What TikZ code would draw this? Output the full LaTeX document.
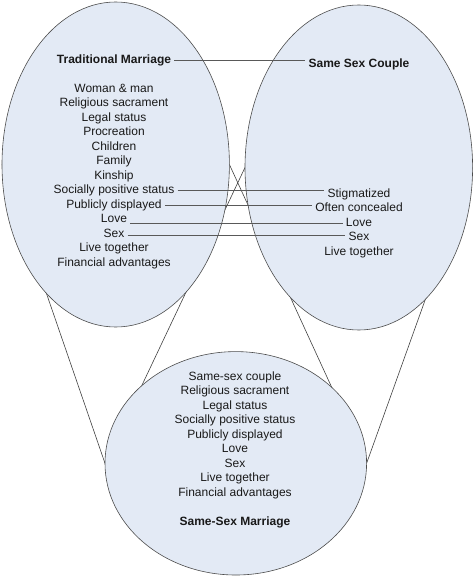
\documentclass[tikz,border=0pt]{standalone}
\usepackage{fontspec}
\setmainfont{Liberation Sans}
\usetikzlibrary{shapes.geometric, backgrounds}
\definecolor{blobfill}{HTML}{E3EAF5}

\begin{document}
\begin{tikzpicture}[x=1pt, y=-1pt,
    blob/.style={ellipse, draw=black!70, line width=0.6pt, fill=blobfill, inner sep=0pt, outer sep=0pt},
    item/.style={font=\fontsize{12}{14.4}\selectfont, text=black!90, text height=1.5ex, text depth=.25ex, inner sep=3pt},
    head/.style={item, font=\fontsize{12}{14.4}\selectfont\bfseries},
    link/.style={draw=black!65, line width=0.9pt},
    cone/.style={draw=black!75, line width=0.6pt}]
    \useasboundingbox (0,0) rectangle (474,577);

    % Ellipses
    \node[blob, minimum width=227.4pt, minimum height=325pt] (trad) at (115.7,164.5) {};
    \node[blob, minimum width=227.6pt, minimum height=325pt] (couple) at (358.8,167.5) {};
    \node[blob, minimum width=261.6pt, minimum height=223.4pt] (ssm) at (235.8,463.3) {};

    % Cones (behind the ellipses)
    \begin{scope}[on background layer]
        \draw[cone] (trad.west) -- (ssm.west);
        \draw[cone] (trad.east) -- (ssm.east);
        \draw[cone] (couple.west) -- (ssm.west);
        \draw[cone] (couple.east) -- (ssm.east);
    \end{scope}

    % Traditional marriage
    \node[head] (tmhead) at (114,60) {Traditional Marriage};
    \node[item] (tmwoman) at (114,89) {Woman \& man};
    \node[item] (tmrelig) at (114,103.5) {Religious sacrament};
    \node[item] (tmlegal) at (114,118) {Legal status};
    \node[item] (tmproc) at (114,132.5) {Procreation};
    \node[item] (tmchild) at (114,147) {Children};
    \node[item] (tmfamily) at (114,161.5) {Family};
    \node[item] (tmkin) at (114,176) {Kinship};
    \node[item] (tmsocial) at (114,190.5) {Socially positive status};
    \node[item] (tmpublic) at (114,205) {Publicly displayed};
    \node[item] (tmlove) at (114,219.5) {Love};
    \node[item] (tmsex) at (114,234) {Sex};
    \node[item] (tmlive) at (114,248.5) {Live together};
    \node[item] (tmmoney) at (114,263) {Financial advantages};

    % Same sex couple
    \node[head] (schead) at (359,64) {Same Sex Couple};
    \node[item] (scstigma) at (359,194) {Stigmatized};
    \node[item] (sconceal) at (359,208.5) {Often concealed};
    \node[item] (sclove) at (359,223) {Love};
    \node[item] (scsex) at (359,237.5) {Sex};
    \node[item] (sclive) at (359,252) {Live together};

    % Links
    \draw[link] (tmhead.east) -- (tmhead.east -| schead.west);
    \draw[link] (tmsocial.east) -- (tmsocial.east -| scstigma.west);
    \draw[link] (tmpublic.east) -- (tmpublic.east -| sconceal.west);
    \draw[link] ([yshift=-4pt]tmlove.east) -- ([yshift=-4pt]tmlove.east -| sclove.west);
    \draw[link] ([yshift=-1.5pt]tmsex.east) -- ([yshift=-1.5pt]tmsex.east -| scsex.west);

    % Same-sex marriage
    \node[item] (smcouple) at (235,377) {Same-sex couple};
    \node[item] (smrelig) at (235,391.5) {Religious sacrament};
    \node[item] (smlegal) at (235,406) {Legal status};
    \node[item] (smsocial) at (235,420.5) {Socially positive status};
    \node[item] (smpublic) at (235,435) {Publicly displayed};
    \node[item] (smlove) at (235,449.5) {Love};
    \node[item] (smsex) at (235,464) {Sex};
    \node[item] (smlive) at (235,478.5) {Live together};
    \node[item] (smmoney) at (235,493) {Financial advantages};
    \node[head] (smhead) at (235,522) {Same-Sex Marriage};
\end{tikzpicture}
\end{document}
